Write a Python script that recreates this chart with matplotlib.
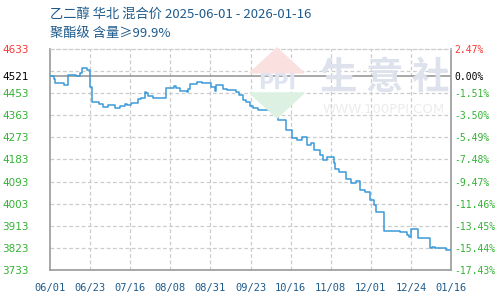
import matplotlib
matplotlib.use("Agg")
import matplotlib.pyplot as plt
from matplotlib.patches import Polygon

plt.rcParams['font.family'] = ['Noto Sans CJK SC', 'DejaVu Sans']

# price series: day offset from 2025-06-01, price (yuan/ton)
days = [0, 2, 3, 8, 10, 15, 17, 18, 21, 23, 24, 28, 30, 33, 37, 40, 43, 44, 46,
        50, 52, 54, 55, 56, 59, 66, 71, 72, 74, 78, 79, 80, 84, 87, 92, 94, 95,
        99, 101, 106, 108, 110, 112, 114, 116, 119, 130, 135, 138, 141, 144,
        147, 149, 151, 154, 156, 158, 162, 163, 165, 169, 172, 175, 177, 180,
        183, 185, 186, 191, 200, 204, 205, 206, 210, 217, 218, 220, 226, 229]
prices = [4521, 4510, 4493, 4486, 4528, 4524, 4536, 4554, 4547, 4479, 4416,
          4408, 4396, 4405, 4392, 4402, 4408, 4405, 4413, 4428, 4435, 4459,
          4453, 4442, 4432, 4475, 4481, 4473, 4463, 4457, 4471, 4491, 4497,
          4493, 4480, 4463, 4485, 4469, 4465, 4457, 4446, 4425, 4416, 4402,
          4394, 4385, 4344, 4303, 4269, 4262, 4273, 4242, 4249, 4222, 4201,
          4181, 4192, 4168, 4143, 4131, 4102, 4088, 4097, 4059, 4049, 4018,
          3998, 3970, 3893, 3888, 3876, 3866, 3899, 3862, 3821, 3828, 3821,
          3814, 3814]

base_price = 4521
y_min, y_max = 3733, 4633
y_ticks = [4633, 4521, 4453, 4363, 4273, 4183, 4093, 4003, 3913, 3823, 3733]
pct_labels = ['2.47%', '0.00%', '-1.51%', '-3.50%', '-5.49%', '-7.48%',
              '-9.47%', '-11.46%', '-13.45%', '-15.44%', '-17.43%']
grid_levels = [3823, 3913, 4003, 4093, 4183, 4273, 4363, 4453, 4543]
x_labels = ['06/01', '06/23', '07/16', '08/08', '08/31', '09/23', '10/16',
            '11/08', '12/01', '12/24', '01/16']
n_days = 229

title = '乙二醇 华北 混合价 2025-06-01 - 2026-01-16'
subtitle = '聚酯级 含量≥99.9%'

red, black, green = '#ff3333', '#000000', '#33b233'
tick_colors = [red, black] + [green] * 9
blue_txt = '#1e5b8c'
spine_c = '#999999'

fig = plt.figure(figsize=(5, 3), dpi=100)
ax = fig.add_axes([0.1, 0.1, 0.802, 0.7367])

# watermark logo + site name
fig.patches.append(Polygon([[0.554, 0.84], [0.5, 0.757], [0.608, 0.757]], closed=True,
                           transform=fig.transFigure, color='#fbe0e0', zorder=0))
fig.patches.append(Polygon([[0.5, 0.69], [0.608, 0.69], [0.554, 0.607]], closed=True,
                           transform=fig.transFigure, color='#dcf1e2', zorder=0))
fig.text(0.554, 0.722, 'PPI', fontsize=15, color='#dfe4f0', ha='center', va='center',
         fontweight='bold', family='DejaVu Sans', zorder=0)
fig.text(0.64, 0.74, '生 意 社', fontsize=27, color='#dde2ec', ha='left', va='center',
         fontweight='bold', zorder=0)
fig.text(0.645, 0.635, 'WWW.100PPI.COM', fontsize=9.5, color='#ececec', ha='left',
         va='center', family='DejaVu Sans', zorder=0)
ax.patch.set_alpha(0)

for lv in grid_levels:
    ax.axhline(lv, color='#cccccc', ls=(0, (3, 2)), lw=0.9, zorder=1)
x_pos = [n_days * i / (len(x_labels) - 1) for i in range(len(x_labels))]
for xp in x_pos[1:-1]:
    ax.axvline(xp, color='#cccccc', ls=(0, (3, 2)), lw=0.9, zorder=1)
ax.axhline(base_price, color=spine_c, lw=1.2, zorder=2)

ax.plot(days, prices, drawstyle='steps-post', color='#3a9ad9', lw=1.1, zorder=3)

ax.set_xlim(0, n_days)
ax.set_ylim(y_min, y_max)
for s in ['left', 'right', 'bottom']:
    ax.spines[s].set_color(spine_c)
    ax.spines[s].set_linewidth(1.2)
ax.spines['top'].set_color('#cccccc')
ax.spines['top'].set_linestyle((0, (3, 2)))
ax.spines['top'].set_linewidth(0.9)

ax.set_xticks(x_pos)
ax.set_xticklabels(x_labels, family='DejaVu Sans Mono', fontsize=7.5, color=blue_txt)
ax.tick_params(axis='x', length=0, pad=9)

ax.set_yticks(y_ticks)
ax.set_yticklabels([str(v) for v in y_ticks], family='DejaVu Sans', fontsize=7.5)
ax.tick_params(axis='y', length=0, pad=15.5)
for lbl, c in zip(ax.get_yticklabels(), tick_colors):
    lbl.set_color(c)

ax2 = ax.twinx()
ax2.set_ylim(y_min, y_max)
ax2.set_yticks(y_ticks)
ax2.set_yticklabels(pct_labels, family='DejaVu Sans Mono', fontsize=7)
ax2.tick_params(axis='y', length=0, pad=2.5)
for lbl, c in zip(ax2.get_yticklabels(), tick_colors):
    lbl.set_color(c)
for s in ax2.spines.values():
    s.set_visible(False)

fig.text(0.1, 0.953, title, fontsize=9.5, color=blue_txt, ha='left', va='center')
fig.text(0.1, 0.888, subtitle, fontsize=9.5, color=blue_txt, ha='left', va='center')

fig.savefig('out.png', dpi=100)
